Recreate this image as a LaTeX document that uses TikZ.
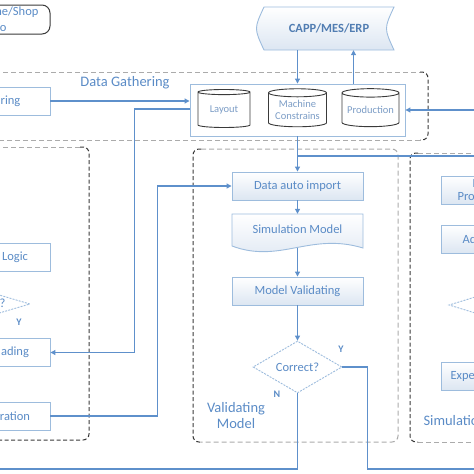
\documentclass[tikz,border=0pt]{standalone}
\usepackage{fontspec}
\setmainfont{Carlito}
\usetikzlibrary{arrows.meta,shapes.geometric,calc}
\definecolor{lblue}{HTML}{5E90CB}
\definecolor{tblue}{HTML}{5A8BC6}
\definecolor{bblue}{HTML}{9DBCDD}
\definecolor{cfill}{HTML}{DCE6F2}
\definecolor{cyltext}{HTML}{7C9DC6}
\definecolor{dgray}{HTML}{3A3A3A}
\definecolor{lgray}{HTML}{ABABAB}
\tikzset{
  boxtxt/.style={font=\fontsize{12.5}{14}\selectfont, text=tblue},
  wbox/.style={draw=bblue, line width=0.9pt, fill=white, boxtxt, inner sep=0pt, minimum height=28pt},
  gbox/.style={draw=bblue, line width=0.9pt, top color=white, bottom color=cfill, boxtxt, inner sep=0pt, minimum height=28pt},
  conn/.style={draw=lblue, line width=1.1pt, -{Triangle[length=5pt,width=5pt]}},
  plain/.style={draw=lblue, line width=1.1pt},
  darkdash/.style={draw=dgray, line width=1pt, dash pattern=on 4pt off 2.5pt},
  greydash/.style={draw=lgray, line width=1pt, dash pattern=on 5pt off 3pt},
  cyl/.style={cylinder, shape border rotate=90, draw=dgray, line width=0.9pt, fill=white, aspect=0.18,
     text=cyltext, font=\fontsize{10.5}{11.5}\selectfont, align=center, inner sep=0pt},
  dec/.style={diamond, draw=bblue, line width=0.9pt, dash pattern=on 2pt off 1.2pt, fill=white, inner sep=0pt, boxtxt},
  grplbl/.style={font=\fontsize{14.5}{16}\selectfont, text=tblue, align=center},
  yn/.style={font=\bfseries\fontsize{10}{11}\selectfont, text=tblue}
}
\begin{document}
\begin{tikzpicture}[x=1pt,y=-1pt]
\useasboundingbox (0,0) rectangle (474,474);
\clip (0,0) rectangle (474,474);

% ---------- group frames ----------
% Data Gathering
\draw[greydash] (-5,72) -- (420,72);
\draw[greydash] (420,140) -- (-5,140);
\draw[darkdash, rounded corners=6pt] (420,72) -- (428,72) -- (428,140) -- (420,140);
% left frame
\draw[greydash] (-5,147) -- (80,147);
\draw[darkdash, rounded corners=6pt] (80,147) -- (89,147) -- (89,440) -- (-5,440);
% Validating Model frame
\draw[greydash, rounded corners=6pt] (201,149) -- (398,149) -- (398,442) -- (201,442);
\draw[darkdash, rounded corners=6pt] (201,149) -- (193,149) -- (193,442) -- (201,442);
% Simulation frame
\draw[greydash] (418,153) -- (480,153);
\draw[greydash] (418,442) -- (480,442);
\draw[darkdash, rounded corners=6pt] (418,153) -- (410,153) -- (410,442) -- (418,442);

\node[grplbl] (lblDG) at (125,83) {Data Gathering};
\node[grplbl] (lblVM) at (236,416) {Validating\\Model};
\node[grplbl, anchor=west] (lblSim) at (420,421) {Simulation};

% ---------- top left box ----------
\node[draw=dgray, line width=1pt, rounded corners=8pt, minimum width=80pt, minimum height=29pt] (msi) at (10,19.5) {};
\node[boxtxt, anchor=east] (msi1) at (42,12) {ne/Shop};
\node[boxtxt, anchor=east] (msi2) at (10,27) {fo};

% ---------- CAPP ----------
\path[draw=bblue, line width=0.9pt, top color=white, bottom color=cfill]
  (264,7) -- (394,7) .. controls (384,28.5) .. (394,50) -- (264,50) .. controls (254,28.5) .. (264,7) -- cycle;
\node[font=\bfseries\fontsize{12.5}{14}\selectfont, text=tblue!90!black, minimum width=130pt, minimum height=43pt, inner sep=0pt] (capp) at (329,28.5) {CAPP/MES/ERP};

% ---------- database container ----------
\node[draw=bblue, line width=0.9pt, fill=white, minimum width=215pt, minimum height=52pt, inner sep=0pt] (cont) at (297.5,110) {};
\node[cyl, minimum width=52pt, minimum height=38pt] (lay) at (224,110) {Layout};
\node[cyl, minimum width=58pt, minimum height=38pt] (mc) at (297.5,110) {Machine\\Constrains};
\node[cyl, minimum width=57pt, minimum height=38pt] (prod) at (370.5,110) {Production};

% ---------- left column ----------
\node[wbox, minimum width=79pt] (dg) at (10.5,101) {ring};
\node[wbox, minimum width=70pt] (logic) at (15,257) {Logic};
\node[dec, minimum width=94pt, minimum height=28pt] (ldec) at (-17,304) {};
\node[boxtxt, anchor=east] (ldecq) at (9,303) {?};
\node[yn] (ly) at (19,322) {Y};
\node[wbox, minimum width=70pt] (load) at (15,352.5) {ading};
\node[wbox, minimum width=70pt] (gen) at (15,416) {ration};

% ---------- middle column ----------
\node[gbox, minimum width=131pt] (dai) at (297.5,186) {Data auto import};
\path[draw=bblue, line width=0.9pt, top color=white, bottom color=cfill]
  (232,214) -- (363,214) -- (363,248) .. controls (310,232) and (280,264) .. (232,246) -- cycle;
\node[boxtxt, minimum width=131pt, minimum height=34pt, inner sep=0pt] (sim) at (297.5,231) {};
\node[boxtxt] (simt) at (297.5,229) {Simulation Model};
\node[gbox, minimum width=131pt] (mv) at (297.5,291) {Model Validating};
\node[dec, minimum width=89pt, minimum height=28pt] (cor) at (297.5,367) {Correct?};
\node[yn] (cy) at (341,349) {Y};
\node[yn] (cn) at (277,394) {N};

% ---------- right column ----------
\node[gbox, minimum width=100pt] (rb1) at (491,190) {};
\node[boxtxt, anchor=west] (rb1a) at (469,183) {En};
\node[boxtxt, anchor=west] (rb1b) at (454,197) {Pro};
\node[gbox, minimum width=100pt] (rb2) at (491,239) {};
\node[boxtxt, anchor=west] (rb2a) at (459,239) {Ad};
\node[dec, minimum width=90pt, minimum height=28pt] (rdec) at (494,305) {};
\node[gbox, minimum width=100pt] (rb3) at (491,376) {};
\node[boxtxt, anchor=west] (rb3a) at (447,376) {Expe};

% ---------- connectors ----------
\coordinate (rin) at (480,110);
\coordinate (rj) at (480,156);
\coordinate (yout) at (480,469);
\coordinate (nout) at (-5,469);

\draw[conn] (capp.south -| mc.north) -- (cont.north -| mc.north);
\draw[conn] ([xshift=56pt]cont.north) -- ([xshift=56pt]cont.north |- capp.south);
\draw[conn] (dg.east) -- (dg.east -| cont.west);
\draw[conn] (rin) -- (cont.east |- rin);
\draw[conn] (cont.south -| dai.north) -- (dai.north);
\draw[plain] (rj) -- (rj -| dai.north);
\draw[conn] ([yshift=1pt]cont.west) -- ++(-55,0) |- (load.east);
\draw[conn] (gen.east) -- ++(107,0) |- (dai.west);
\draw[conn] (dai.south) -- (sim.north);
\draw[conn] (sim.south) -- (mv.north);
\draw[conn] (mv.south) -- (cor.north);
\draw[plain] (cor.east) -- ++(25,0) |- (yout);
\draw[plain] (cor.south) |- (nout);
\end{tikzpicture}
\end{document}
